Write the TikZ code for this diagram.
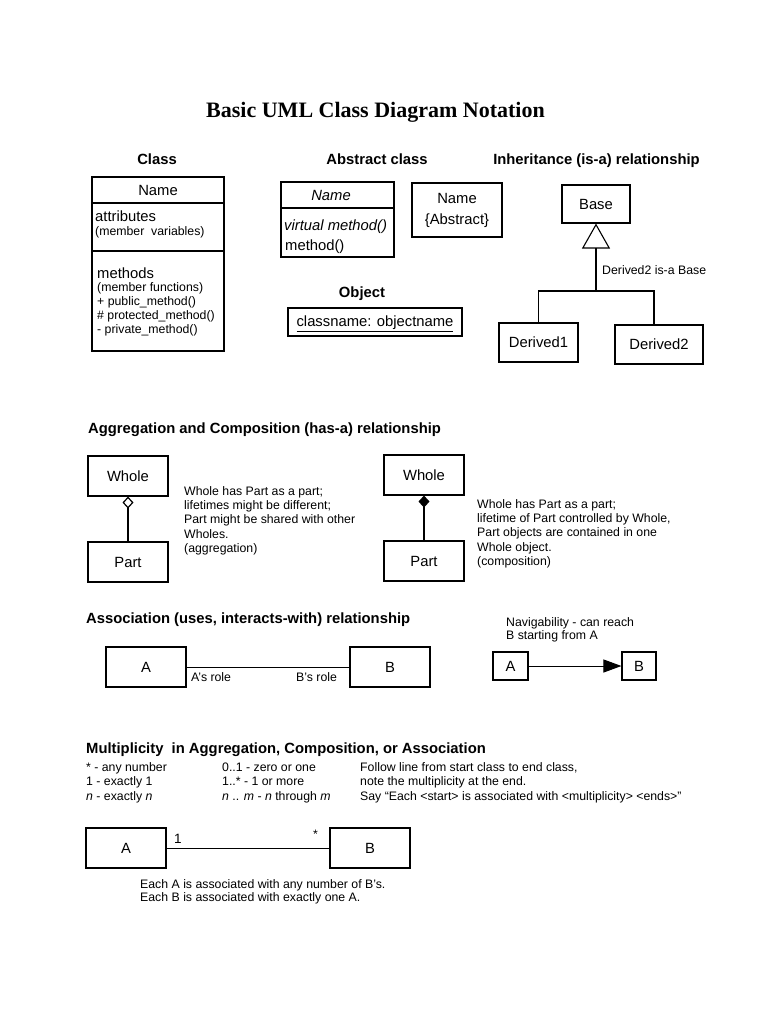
\documentclass[tikz,border=0pt]{standalone}
\usepackage{fontspec}
\setmainfont{Liberation Sans}
\newfontfamily\titlefont{Liberation Serif}
\usetikzlibrary{arrows.meta}
\tikzset{
  box/.style={draw, line width=1.1pt, inner sep=0pt, font=\fontsize{14.8}{17}\selectfont},
  sz/.style 2 args={minimum width=#1pt, minimum height=#2pt},
  lbl/.style={font=\fontsize{14.8}{17}\selectfont, inner sep=0pt, anchor=base},
  lbll/.style={font=\fontsize{14.8}{17}\selectfont, inner sep=0pt, anchor=base west},
  txt/.style={font=\fontsize{12.3}{14}\selectfont, inner sep=0pt, anchor=base west},
  head/.style={font=\fontsize{14.8}{17}\selectfont\bfseries, inner sep=0pt, anchor=base},
  headl/.style={font=\fontsize{14.8}{17}\selectfont\bfseries, inner sep=0pt, anchor=base west},
  conn/.style={line width=1pt},
  thickconn/.style={line width=1.8pt},
}
\begin{document}
\begin{tikzpicture}[x=1pt, y=-1pt]
\fill[white] (0,0) rectangle (768,1024);
\useasboundingbox (0,0) rectangle (768,1024);

% Title
\node[inner sep=0pt, anchor=base, font=\titlefont\fontsize{22}{26}\selectfont\bfseries] (title) at (375.5,118) {Basic UML Class Diagram Notation};

% ---------- Class ----------
\node[head] (hclass) at (157,165) {Class};
\node[box, sz={132}{174}] (cls) at (158,264) {};
\draw[line width=1.1pt] (cls.west |- 0,203) -- (cls.east |- 0,203);
\draw[line width=1.1pt] (cls.west |- 0,251) -- (cls.east |- 0,251);
\node[lbl] (clsname) at (158,196) {Name};
\node[lbll] (clsattr) at (95,222) {attributes};
\node[txt] (clsattr2) at (95,236) {(member\ \ variables)};
\node[lbll] (clsmeth) at (97,278) {methods};
\node[txt] (clsm1) at (97,291) {(member functions)};
\node[txt] (clsm2) at (97,305) {+ public\_method()};
\node[txt] (clsm3) at (97,319) {\# protected\_method()};
\node[txt] (clsm4) at (97,333) {- private\_method()};

% ---------- Abstract class ----------
\node[head] (habs) at (377,165) {Abstract class};
\node[box, sz={113}{75}] (abs) at (337.5,219.5) {};
\draw[line width=1.1pt] (abs.west |- 0,208) -- (abs.east |- 0,208);
\node[lbl, font=\fontsize{14.8}{17}\selectfont\itshape] (absname) at (331,201) {Name};
\node[lbll, font=\fontsize{14.8}{17}\selectfont\itshape] (absvm) at (284,231) {virtual method()};
\node[lbll] (absm) at (285,251) {method()};

\node[box, sz={90}{54}] (abs2) at (457,210) {};
\node[lbl] (abs2a) at (457,204) {Name};
\node[lbl] (abs2b) at (457,225) {\{Abstract\}};

% ---------- Object ----------
\node[head] (hobj) at (362,297) {Object};
\node[box, line width=1.5pt, sz={174}{28}] (obj) at (375,322) {};
\node[lbl] (objname) at (375,326.5) {\underline{classname: objectname}};

% ---------- Inheritance ----------
\node[head] (hinh) at (596.5,165) {Inheritance (is-a) relationship};
\node[box, sz={68}{38}] (base) at (596,204) {Base};
\node[box, sz={79}{39}] (d1) at (538.5,342.5) {Derived1};
\node[box, sz={88}{39}] (d2) at (659,344.5) {Derived2};
\coordinate (j) at (596,291);
\coordinate (jr) at (654,291);
\draw[line width=1.1pt, -{Triangle[open, length=25pt, width=28pt]}] (j) -- (base.south);
\draw[line width=1.1pt] (d1.north) |- (j) -- (jr) -- (jr |- d2.north);
\node[txt] (isa) at (602,274.5) {Derived2 is-a Base};

% ---------- Aggregation / Composition ----------
\node[headl] (hagg) at (88,433) {Aggregation and Composition (has-a) relationship};
\node[box, sz={80}{40}] (w1) at (128,476) {Whole};
\node[box, sz={80}{40}] (p1) at (128,562) {Part};
\draw[thickconn, -{Diamond[open, length=12pt, width=11pt, line width=1.2pt]}] (p1.north) -- (w1.south);
\node[txt] (agg1) at (184,495.5) {Whole has Part as a part;};
\node[txt] (agg2) at (184,509.7) {lifetimes might be different;};
\node[txt] (agg3) at (184,523.9) {Part might be shared with other};
\node[txt] (agg4) at (184,538.1) {Wholes.};
\node[txt] (agg5) at (184,552.3) {(aggregation)};

\node[box, sz={80}{40}] (w2) at (424,475) {Whole};
\node[box, sz={80}{40}] (p2) at (424,561) {Part};
\draw[thickconn, -{Diamond[length=12pt, width=11pt]}] (p2.north) -- (w2.south);
\node[txt] (comp1) at (477,508.5) {Whole has Part as a part;};
\node[txt] (comp2) at (477,522.7) {lifetime of Part controlled by Whole,};
\node[txt] (comp3) at (477,536.9) {Part objects are contained in one};
\node[txt] (comp4) at (477,551.1) {Whole object.};
\node[txt] (comp5) at (477,565.3) {(composition)};

% ---------- Association ----------
\node[headl] (hass) at (86,623) {Association (uses, interacts-with) relationship};
\node[box, sz={80}{40}] (aa) at (146,667) {A};
\node[box, sz={80}{40}] (ab) at (390,667) {B};
\draw[conn] (aa.east) -- (ab.west);
\node[txt] (arole) at (191,681) {A’s role};
\node[txt] (brole) at (296,681) {B’s role};

\node[txt] (nav1) at (506,626) {Navigability - can reach};
\node[txt] (nav2) at (506,639.5) {B starting from A};
\node[box, sz={35}{28}] (na) at (510.5,666) {A};
\node[box, sz={34}{28}] (nb) at (639,666) {B};
\draw[conn, -{Triangle[length=18pt, width=13pt]}] (na.east) -- (nb.west);

% ---------- Multiplicity ----------
\node[headl] (hmul) at (86,753) {Multiplicity\ \ in Aggregation, Composition, or Association};
\node[txt] (r1c1) at (86,771) {* - any number};
\node[txt] (r2c1) at (86,785.5) {1 - exactly 1};
\node[txt] (r3c1) at (86,800) {\textit{n} - exactly \textit{n}};
\node[txt] (r1c2) at (222,771) {0..1 - zero or one};
\node[txt] (r2c2) at (222,785.5) {1..* - 1 or more};
\node[txt] (r3c2) at (222,800) {\textit{n} .. \textit{m} - \textit{n} through \textit{m}};
\node[txt] (r1c3) at (360,771) {Follow line from start class to end class,};
\node[txt] (r2c3) at (360,785.5) {note the multiplicity at the end.};
\node[txt] (r3c3) at (360,800) {Say “Each <start> is associated with <multiplicity> <ends>”};

\node[box, sz={80}{40}] (ma) at (126,848) {A};
\node[box, sz={80}{40}] (mb) at (370,848) {B};
\draw[conn] (ma.east) -- (mb.west);
\node[lbll, font=\fontsize{13.5}{16}\selectfont] (m1) at (174,843) {1};
\node[txt] (mstar) at (313,838) {*};
\node[txt] (mult1) at (140,888) {Each A is associated with any number of B’s.};
\node[txt] (mult2) at (140,901.5) {Each B is associated with exactly one A.};
\end{tikzpicture}
\end{document}
